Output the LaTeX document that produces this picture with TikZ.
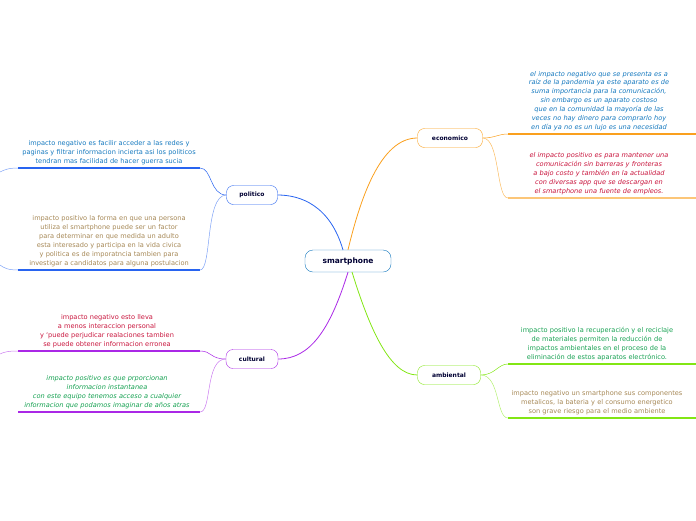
\documentclass[tikz,border=0pt]{standalone}
\usepackage{fontspec}
\setmainfont{DejaVu Sans}
\begin{document}
\begin{tikzpicture}[x=1pt,y=-1pt,
 topic/.style={draw,rounded corners=7pt,fill=white,font=\bfseries\fontsize{6}{8}\selectfont,text=black!80!blue,minimum height=19pt,inner xsep=6pt},
 leaf/.style={align=center,text width=182pt,font=\leaffont,inner sep=0pt},
 uline/.style={line width=1.3pt},
 thin/.style={line width=0.5pt}]
\def\leaffont{\hyphenpenalty=10000\exhyphenpenalty=10000\fontsize{6.6}{8.9}\selectfont}
\def\leafit{\hyphenpenalty=10000\itshape\fontsize{6.6}{8.9}\selectfont}
\useasboundingbox (0,0) rectangle (696,520);
\definecolor{cor}{RGB}{250,160,30}\definecolor{cbl}{RGB}{40,100,240}
\definecolor{cpu}{RGB}{170,40,230}\definecolor{cgr}{RGB}{130,230,20}
\definecolor{tblue}{RGB}{20,120,190}\definecolor{tred}{RGB}{200,20,60}
\definecolor{ttan}{RGB}{165,135,85}\definecolor{tgreen}{RGB}{20,160,80}
\node[draw=tblue,rounded corners=8pt,minimum width=86pt,minimum height=22pt,font=\bfseries\fontsize{7.5}{9}\selectfont,text=black!80!blue] (c) at (348,261) {smartphone};
\node[topic,draw=cor,minimum width=65pt] (e) at (450,138) {economico};
\node[topic,draw=cbl,minimum width=51pt] (p) at (252,195) {politico};
\node[topic,draw=cpu,minimum width=52pt] (cu) at (252,359) {cultural};
\node[topic,draw=cgr,minimum width=63pt] (a) at (449,375) {ambiental};
\draw[cor,thick] (c.north) .. controls (360,200) and (380,138) .. (e.west);
\draw[cbl,thick] (343,250) .. controls (330,205) and (300,195) .. (p.east);
\draw[cpu,thick] (c.south) .. controls (330,330) and (310,359) .. (cu.east);
\draw[cgr,thick] (352,272) .. controls (370,330) and (390,375) .. (a.west);
% economico leaves
\coordinate (e1a) at (508,134);\coordinate (e1b) at (696,134);
\coordinate (e2a) at (508,198);\coordinate (e2b) at (696,198);
\draw[cor,uline] (e1a)--(e1b); \draw[cor!60,uline] (e2a)--(e2b);
\draw[cor,thin] (e.east) .. controls (495,138) and (498,134) .. (e1a);
\draw[cor!70,thin] (e.east) .. controls (500,138) and (496,198) .. (e2a);
\node[leaf,text=tblue,font=\leafit,anchor=south,text width=178pt] (e1) at (599,131) {el impacto negativo que se presenta es a raíz de la pandemia ya este aparato es de suma importancia para la comunicación, sin embargo es un aparato costoso\\que en la comunidad la mayoría de las veces no hay dinero para comprarlo hoy en día ya no es un lujo es una necesidad};
\node[leaf,text=tred,font=\leafit,anchor=south,text width=168pt] (e2) at (599,195) {el impacto positivo es para mantener una comunicación sin barreras y fronteras a bajo costo y también en la actualidad con diversas app que se descargan en el smartphone una fuente de empleos.};
% politico leaves
\coordinate (p1a) at (200,168);\coordinate (p1b) at (18,168);
\coordinate (p2a) at (200,270);\coordinate (p2b) at (18,270);
\draw[cbl,uline] (p1a)--(p1b); \draw[cbl,uline] (p2a)--(p2b);
\draw[cbl,thin] (p.west) .. controls (210,195) and (212,168) .. (p1a);
\draw[cbl!60,thin] (p.west) .. controls (205,195) and (212,270) .. (p2a);
\draw[cbl!60,thin] (p1b) .. controls (8,168) and (4,170) .. (0,172);
\draw[cbl!60,thin] (p2b) .. controls (8,270) and (4,268) .. (0,265);
\node[leaf,text=tblue,anchor=south,text width=176pt] (p1) at (109,165) {impacto negativo es facilir acceder a las redes y paginas y filtrar informacion incierta asi los politicos tendran mas facilidad de hacer guerra sucia};
\node[leaf,text=ttan,anchor=south,text width=176pt] (p2) at (109,267) {impacto positivo la forma en que una persona utiliza el smartphone puede ser un factor para determinar en que medida un adulto esta interesado y participa en la vida civica y politica es de imporatncia tambien para investigar a candidatos para alguna postulacion};
% cultural leaves
\coordinate (c1a) at (200,351);\coordinate (c1b) at (18,351);
\coordinate (c2a) at (200,412);\coordinate (c2b) at (18,412);
\draw[cpu,uline] (c1a)--(c1b); \draw[cpu,uline] (c2a)--(c2b);
\draw[cpu,thin] (cu.west) .. controls (210,359) and (212,351) .. (c1a);
\draw[cpu!60,thin] (cu.west) .. controls (205,359) and (212,412) .. (c2a);
\draw[cpu!60,thin] (c1b) .. controls (8,351) and (4,352) .. (0,354);
\node[leaf,text=tred,anchor=south,text width=176pt] (cu1) at (107,348) {impacto negativo esto lleva a menos interaccion personal\\y `puede perjudicar realaciones tambien se puede obtener informacion erronea};
\node[leaf,text=tgreen,font=\leafit,anchor=south,text width=184pt] (cu2) at (107,409) {impacto positivo es que prporcionan informacion instantanea\\con este equipo tenemos acceso a cualquier informacion que podamos imaginar de años atras};
% ambiental leaves
\coordinate (a1a) at (508,364);\coordinate (a1b) at (696,364);
\coordinate (a2a) at (508,418);\coordinate (a2b) at (696,418);
\draw[cgr,uline] (a1a)--(a1b); \draw[cgr,uline] (a2a)--(a2b);
\draw[cgr,thin] (a.east) .. controls (495,375) and (498,364) .. (a1a);
\draw[cgr!60,thin] (a.east) .. controls (500,375) and (496,418) .. (a2a);
\node[leaf,text=tgreen,anchor=south,text width=180pt] (a1) at (597,361) {impacto positivo la recuperación y el reciclaje de materiales permiten la reducción de impactos ambientales en el proceso de la eliminación de estos aparatos electrónico.};
\node[leaf,text=ttan,anchor=south,text width=180pt] (a2) at (597,415) {impacto negativo un smartphone sus componentes metalicos, la bateria y el consumo energetico son grave riesgo para el medio ambiente};
\end{tikzpicture}
\end{document}
